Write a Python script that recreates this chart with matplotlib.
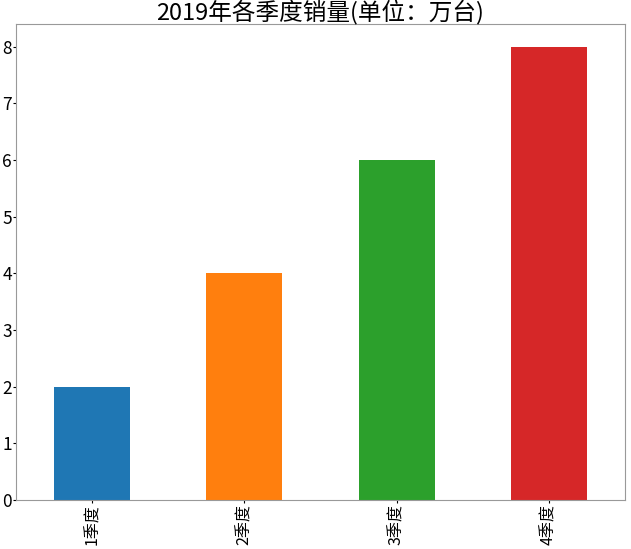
import matplotlib
matplotlib.use("Agg")
import matplotlib.pyplot as plt
import pandas as pd

plt.rcParams['font.family'] = ['Noto Sans CJK SC', 'DejaVu Sans']
plt.rcParams['axes.unicode_minus'] = False

# data
quarters = ['1季度', '2季度', '3季度', '4季度']
sales = [2, 4, 6, 8]
colors = ['#1f77b4', '#ff7f0e', '#2ca02c', '#d62728']

fig = plt.figure(figsize=(6.31, 5.49), dpi=100)
ax = fig.add_axes([0.0254, 0.0893, 0.9651, 0.867])

s = pd.Series(sales, index=quarters)
s.plot(kind='bar', ax=ax, color=colors, width=0.5)

ax.set_title('2019年各季度销量(单位：万台)', fontsize=17, pad=1)
ax.tick_params(axis='y', labelsize=12.5, pad=1, length=2)
ax.tick_params(axis='x', labelsize=11.5, pad=1, length=2)
for sp in ax.spines.values():
    sp.set_color('#999999')

fig.savefig('out.png', dpi=100)
